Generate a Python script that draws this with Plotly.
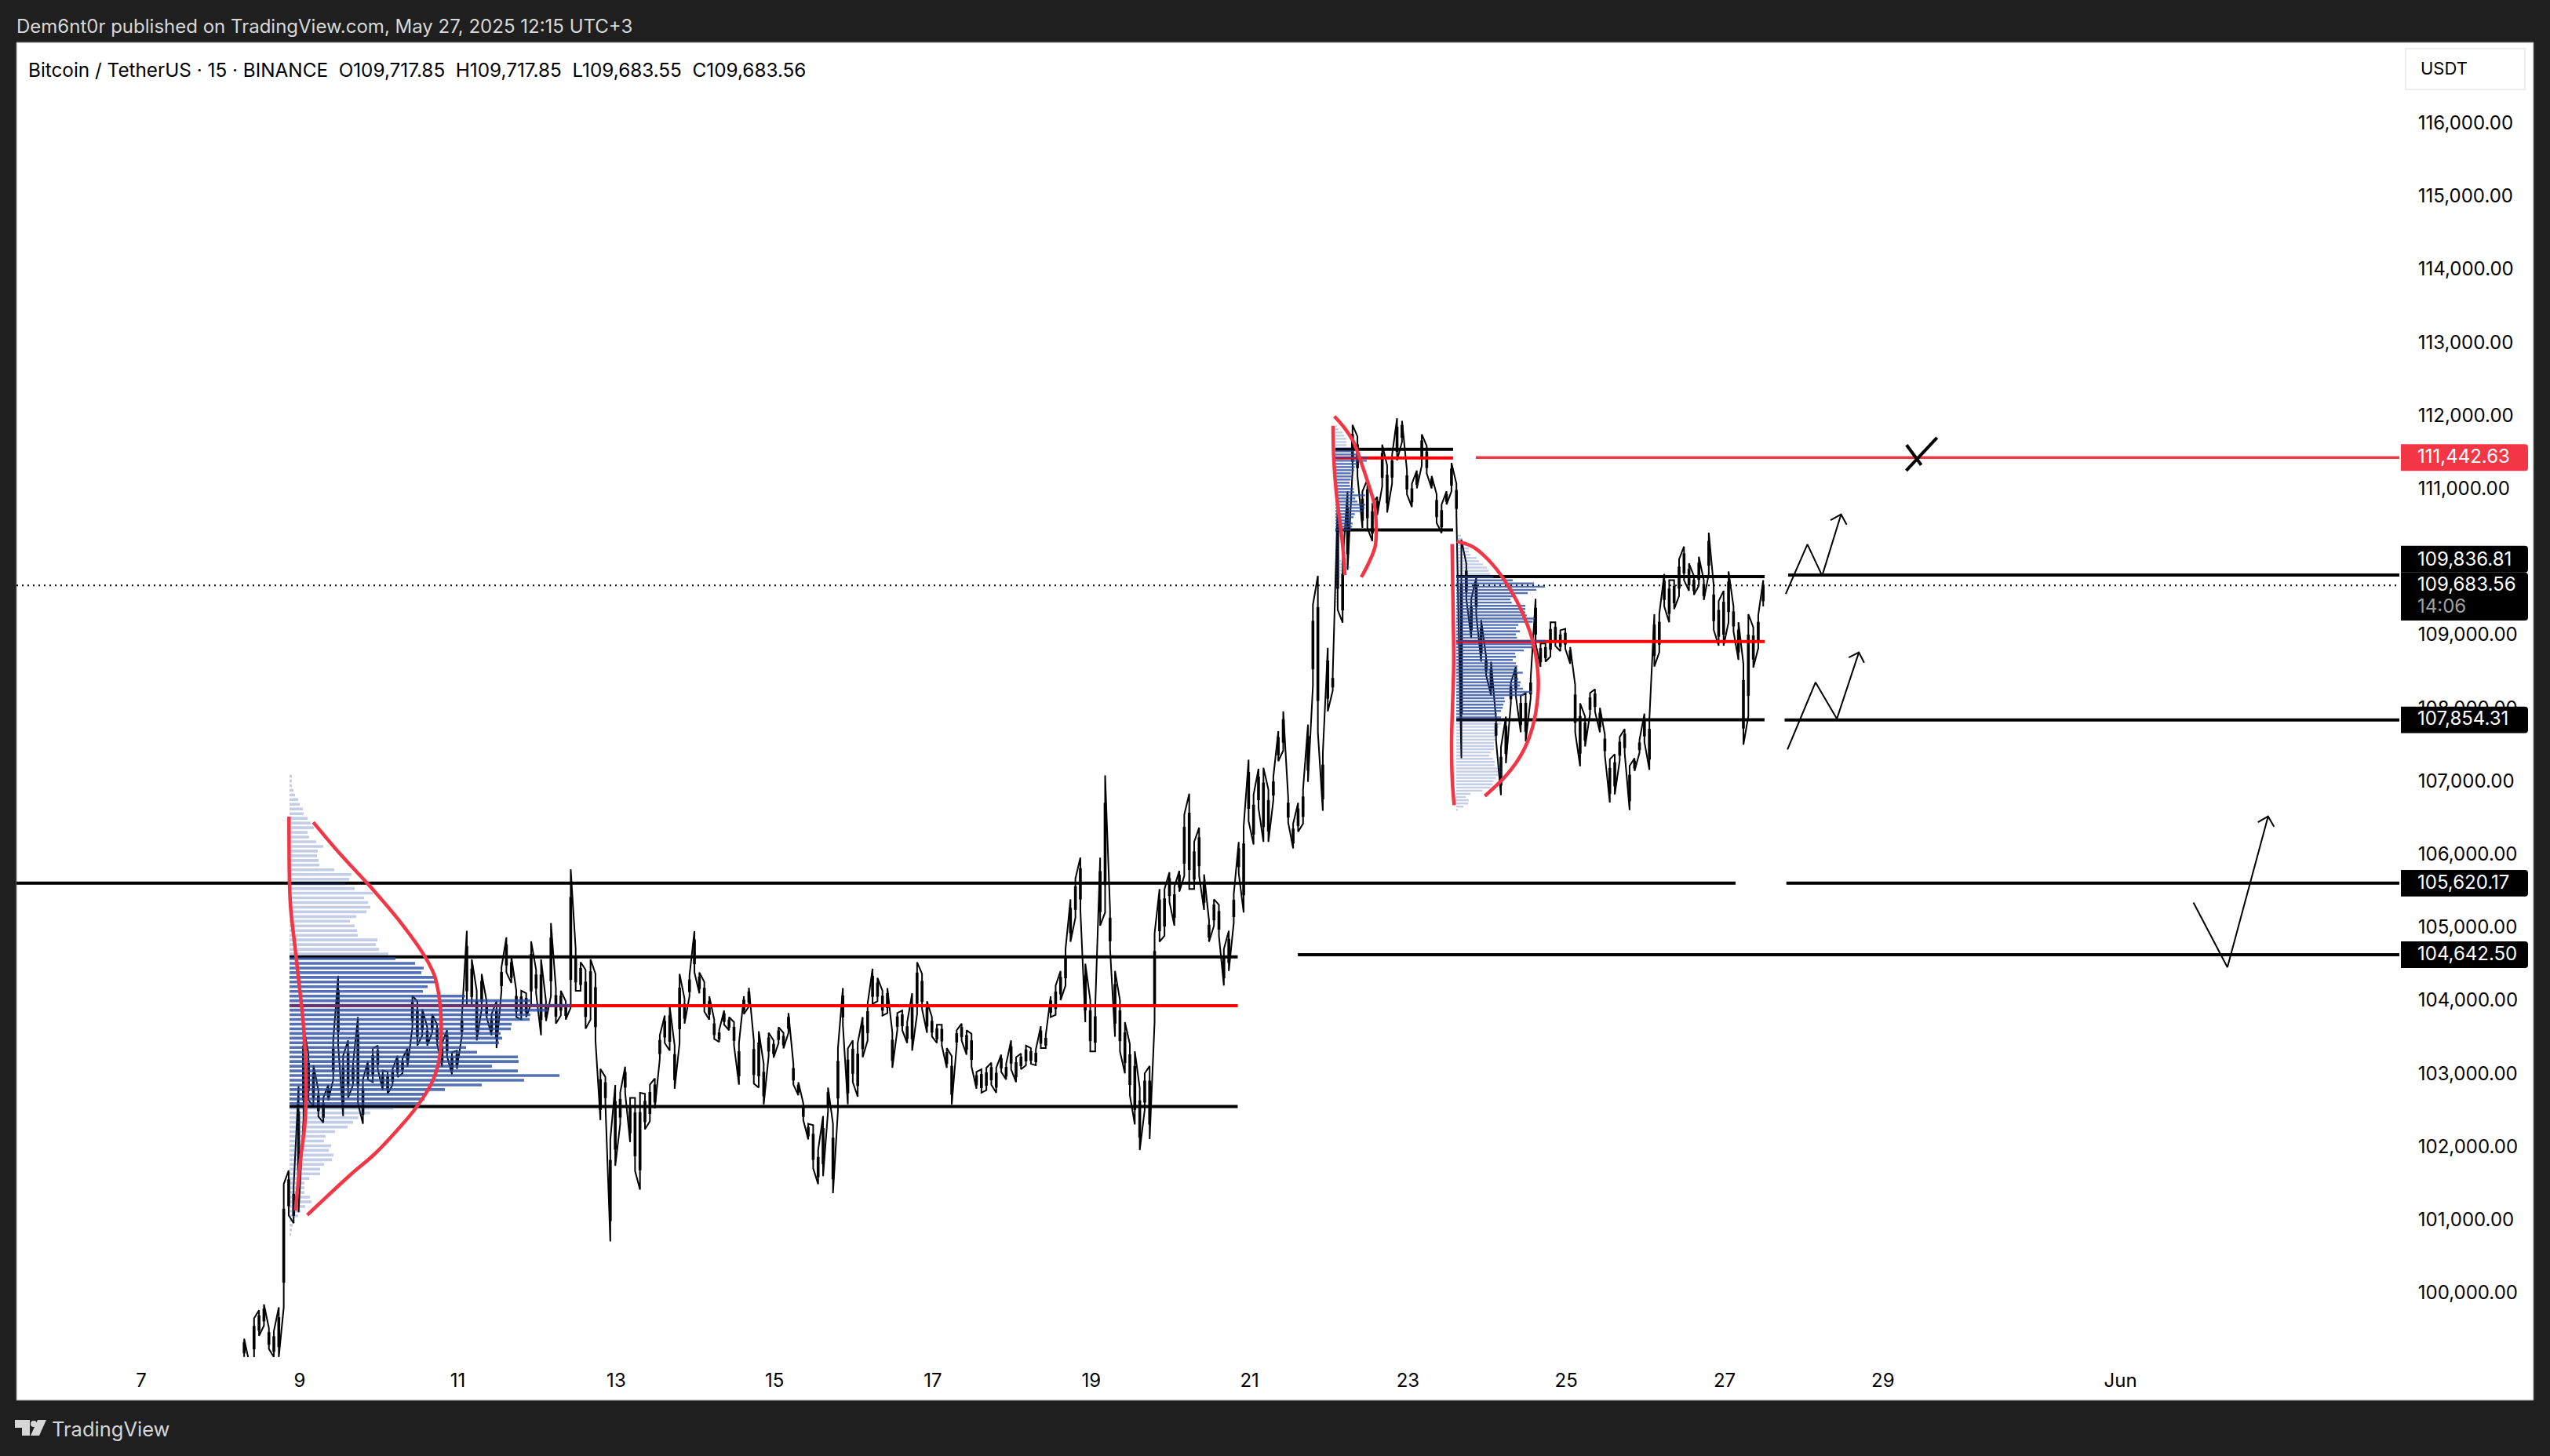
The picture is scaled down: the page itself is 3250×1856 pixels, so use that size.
#!/usr/bin/env python
import plotly.graph_objects as go

# chart frame in page pixels
W, H = 3250, 1856
L, R, T, B = 21, 3058, 54, 1730
DAY_MIN, DAY_MAX = 5.424, 35.523
PRICE_MIN, PRICE_MAX = 99118, 117101

price_ticks = [100000 + 1000 * i for i in range(17)]
day_ticks = [7, 9, 11, 13, 15, 17, 19, 21, 23, 25, 27, 29, 32]
day_labels = ["7", "9", "11", "13", "15", "17", "19", "21", "23", "25", "27", "29", "Jun"]

# BTCUSDT, one high/low pair every 90 minutes from May 8 07:12
bar_start = 8.3
bar_step = 0.0625
bar_high = [99370, 99050, 99650, 99760, 99840, 99517, 99475, 99800, 101486, 101672, 101450, 102825, 103630,
            103270, 103110, 102770, 102665, 102840, 103450, 104335, 103240, 103450, 103130, 103770, 102915,
            103165, 103340, 103380, 103040, 103020, 103060, 103240, 103200, 103340, 104060, 103985, 103880,
            103630, 103810, 103665, 103415, 103590, 103290, 103310, 103770, 104950, 104560, 104130, 104360,
            103985, 103810, 103985, 104450, 104860, 104590, 104130, 104130, 104095, 104805, 104415, 104560,
            103985, 105055, 104165, 104130, 103985, 105790, 104700, 104520, 104415, 104560, 104360, 103060,
            102950, 102095, 102840, 102735, 103090, 102665, 102665, 102735, 102720, 102845, 102930, 103520,
            103790, 103915, 103380, 104360, 104020, 104340, 104945, 104380, 104250, 104055, 103735, 103590,
            103860, 103770, 103700, 103415, 104055, 104170, 103450, 103575, 103130, 103555, 103450, 103630,
            103555, 103825, 103130, 102880, 102590, 102310, 102290, 101950, 102415, 102805, 102310, 103340,
            104165, 103340, 103450, 103415, 103770, 103950, 104430, 104305, 104130, 104165, 103555, 103825,
            103860, 103700, 104095, 104520, 104360, 103985, 103770, 103665, 103665, 103345, 103235, 103590,
            103680, 103590, 103540, 103020, 103055, 103075, 103145, 103075, 103255, 103130, 103450, 103220,
            103270, 103380, 103345, 103325, 103645, 103520, 104055, 104200, 104400, 104700, 105380, 105665,
            105950, 104500, 104000, 103900, 105950, 107075, 105235, 104400, 104000, 103700, 103400, 103300,
            102800, 103000, 103100, 104915, 105520, 105520, 105750, 105555, 105770, 106540, 106825, 106165,
            106360, 105720, 105090, 105380, 105305, 104700, 104950, 105450, 106165, 106380, 107290, 106810,
            107165, 107180, 106880, 107055, 107680, 107950, 106770, 106415, 106700, 106880, 107770, 109410,
            109805, 107380, 108820, 108450, 110780, 110000, 110960, 111870, 111710, 110960, 111120, 110790,
            110885, 111600, 111315, 111460, 111960, 111925, 111245, 111065, 111245, 111740, 111580, 111170,
            110920, 110780, 110960, 111350, 111065, 110300, 109970, 109490, 109775, 109200, 108700, 108630,
            107845, 107460, 107880, 108345, 108560, 108165, 108200, 108400, 109490, 108880, 108880, 109170,
            109170, 109060, 109080, 108830, 108310, 108060, 107880, 108200, 108255, 108000, 107635, 107295,
            107365, 107600, 107710, 107205, 107310, 107560, 107920, 107850, 109280, 109280, 109830, 109745,
            109745, 110030, 110205, 109975, 109800, 110065, 109745, 110395, 109670, 109460, 109600, 109865,
            109385, 109170, 108600, 109280, 109100, 109265, 109745]
bar_low = [99120, 98900, 99120, 99410, 99550, 99230, 99120, 99120, 99800, 101058, 100950, 101100, 102380,
           102630, 102560, 102410, 102325, 102630, 102915, 103380, 102415, 102665, 102840, 102590, 102310,
           102915, 102880, 103060, 102770, 102720, 102840, 102950, 103000, 103090, 103630, 103380, 103520,
           103380, 103560, 103400, 103090, 103235, 102985, 103060, 103520, 103915, 103915, 103450, 103880,
           103770, 103520, 103345, 104130, 104380, 104235, 103770, 103735, 103770, 103950, 104095, 103520,
           103715, 104060, 103680, 103790, 103735, 103900, 104130, 104130, 103610, 103735, 103450, 102360,
           102590, 100700, 101735, 102310, 102735, 102060, 101665, 101410, 102235, 102345, 102520, 103200,
           103415, 103310, 102790, 103415, 103680, 104055, 104380, 104095, 103845, 103735, 103470, 103430,
           103665, 103590, 103380, 102845, 103810, 103915, 102860, 102805, 102575, 103235, 103215, 103415,
           103340, 103555, 102845, 102700, 102360, 102095, 101700, 101485, 101595, 102485, 101360, 102485,
           103665, 102575, 102880, 102680, 103220, 103450, 103950, 103985, 103790, 103825, 103075, 103590,
           103590, 103415, 103310, 103810, 103880, 103555, 103505, 103415, 103380, 103075, 102575, 103380,
           103450, 103255, 103095, 102790, 102735, 102770, 102845, 102735, 103020, 102915, 103055, 102880,
           103055, 103110, 103130, 103110, 103345, 103345, 103770, 103800, 104000, 104200, 104800, 105130,
           105235, 103700, 103300, 103300, 105020, 105200, 104700, 103500, 103300, 103000, 102700, 102300,
           101950, 102500, 102100, 103700, 104800, 104880, 105345, 105020, 105485, 105700, 105520, 105520,
           105700, 105235, 104800, 105020, 104880, 104200, 104400, 105060, 105735, 105200, 106450, 106130,
           106630, 106165, 106165, 106735, 107270, 107415, 106430, 106075, 106305, 106415, 106985, 108305,
           107665, 106590, 107950, 108235, 109340, 109165, 109885, 111240, 111170, 110460, 110460, 110280,
           110635, 111030, 110670, 111070, 111385, 111635, 110920, 110745, 111000, 111315, 111205, 111000,
           110530, 110390, 110780, 110960, 110635, 107310, 109490, 108950, 109275, 108630, 108450, 108165,
           107560, 106805, 107240, 108060, 108165, 107665, 107540, 108130, 108880, 108560, 108630, 108700,
           108845, 108775, 108810, 108600, 107665, 107200, 107470, 107915, 107950, 107665, 107350, 106705,
           106815, 107280, 107385, 106600, 107135, 107385, 107530, 107150, 108565, 108760, 109385, 109170,
           109350, 109530, 109745, 109600, 109545, 109670, 109475, 109830, 109065, 108850, 108850, 109170,
           109045, 108655, 107495, 107885, 108550, 108815, 109385]
last_price = 109683.56

# visible range volume profiles: volume per row, top row first
vp1_volume = [9, 9, 9, 15, 21, 33, 39, 51, 54, 69, 81, 93, 69, 75, 102, 129, 108, 105, 111, 114,
              171, 237, 228, 213, 249, 318, 285, 300, 309, 294, 255, 231, 249, 258, 261, 336, 330, 342, 378, 405,
              480, 513, 504, 555, 558, 528, 510, 672, 924, 1077, 987, 921, 918, 849, 846, 807, 813, 801, 675, 717,
              873, 876, 774, 873, 1032, 897, 735, 594, 522, 516, 493, 396, 309, 263, 243, 222, 174, 138, 132, 159,
              150, 168, 162, 132, 117, 117, 75, 57, 57, 57, 78, 84, 60, 42, 33, 15, 12, 9, 6]
vp2_volume = [6, 12, 27, 34, 42, 41, 42, 59, 69, 84, 126, 120, 84, 74, 72, 59, 64, 58, 54, 56, 70, 72, 114, 76,
              84, 114, 112, 104, 74, 69, 59, 66, 64, 59, 42, 19, 12, 16, 14, 14, 12, 9, 9, 22, 44, 56, 24, 20, 19,
              14, 10, 10, 6, 6, 6, 6, 6, 4]
vp3_volume = [18, 24, 36, 42, 48, 48, 54, 78, 87, 102, 117, 124, 130, 142, 216, 297, 339, 306, 273, 222, 207, 212,
              264, 264, 264, 270, 300, 292, 237, 228, 243, 228, 232, 342, 292, 288, 258, 225, 228, 216, 228, 234,
              234, 254, 228, 237, 246, 243, 255, 288, 258, 184, 186, 180, 177, 171, 156, 171, 152, 172, 162, 152,
              159, 147, 147, 144, 144, 144, 132, 126, 140, 147, 147, 177, 174, 174, 152, 142, 139, 130, 99, 54,
              37, 48, 45, 27, 6]
# start day, top row price, row height, value area high, value area low, point of control, last day
vp1_range = (8.873, 107063, 63.96, 104593, 102547, 103925, 20.85)
vp2_range = (22.084, 111850, 42.9, 111535, 110432, 111418, 23.57)
vp3_range = (23.611, 110354, 43.6, 109793, 107836, 108907, 27.505)
VP_DAYS_PER_UNIT = 1 / 302.7

# horizontal levels drawn on the chart: price, from day, to day
level_105620 = (105620.17, DAY_MIN, 27.139)
level_105620b = (105620.17, 27.780, DAY_MAX)
level_104642 = (104642.50, 21.61, DAY_MAX)
level_107854 = (107854.31, 27.758, DAY_MAX)
level_109836 = (109836.81, 27.803, DAY_MAX)
level_111442 = (111442.63, 23.858, DAY_MAX)
# the axis text sits a touch above its price, so the drawn levels land about 2px under where the ticks suggest
LEVEL_NUDGE = -20

# hand drawn curves around the profiles
curve1_left_x = [8.866, 8.873, 8.889, 8.942, 8.998, 9.041, 9.074, 9.081, 9.064, 9.015, 8.949]
curve1_left_y = [106512, 105579, 105239, 104730, 104179, 103755, 103246, 102610, 102271, 101847, 101125]
curve1_right_x = [9.173, 9.510, 9.907, 10.303, 10.568, 10.700, 10.749, 10.782, 10.789, 10.759, 10.667, 10.468,
                  10.237, 9.940, 9.643, 9.097]
curve1_right_y = [106435, 106003, 105536, 105027, 104624, 104349, 104137, 103840, 103543, 103161, 102864, 102525,
                  102228, 101889, 101613, 101062]
curve2_left_x = [22.054, 22.064, 22.097, 22.147, 22.180, 22.203]
curve2_left_y = [111857, 111386, 110922, 110493, 110172, 109815]
curve2_right_x = [22.071, 22.196, 22.312, 22.411, 22.510, 22.576, 22.599, 22.586, 22.510, 22.411]
curve2_right_y = [111986, 111832, 111636, 111350, 111029, 110779, 110493, 110207, 109993, 109786]
curve3_left_x = [23.558, 23.571, 23.578, 23.551, 23.561, 23.584]
curve3_left_y = [110239, 109311, 108597, 107525, 106990, 106668]
curve3_right_x = [23.617, 23.815, 24.014, 24.212, 24.410, 24.575, 24.641, 24.641, 24.575, 24.443, 24.245, 23.971]
curve3_right_y = [110275, 110204, 110025, 109757, 109382, 108918, 108489, 108168, 107739, 107382, 107079, 106793]

# projected paths, each head is the arrow tip
path1_x = [27.772, 28.046, 28.232, 28.471]
path1_y = [109556, 110236, 109806, 110645]
head1_x = [28.338, 28.471, 28.542]
head1_y = [110565, 110645, 110505]
path2_x = [27.794, 28.148, 28.418, 28.696]
path2_y = [107429, 108348, 107848, 108757]
head2_x = [28.568, 28.696, 28.763]
head2_y = [108687, 108757, 108617]
path3_x = [32.922, 33.351, 33.865]
path3_y = [105336, 104451, 106514]
head3_x = [33.736, 33.865, 33.940]
head3_y = [106435, 106514, 106375]
cross_a_x = [29.294, 29.683]
cross_a_y = [111245, 111694]
cross_b_x = [29.298, 29.484]
cross_b_y = [111594, 111320]

BLACK = "#000000"
RED = "#f23645"
PURE_RED = "#ff0000"
VA_BLUE = "rgba(41,76,164,0.8)"
OUT_BLUE = "rgba(41,76,164,0.28)"
FRAME = "#1f1f1f"
FONT = "Inter"


def px_x(x):
    return (x - L) / (R - L)


def px_y(y):
    return (B - y) / (B - T)


def line(xs, ys, color=BLACK, width=2, shape="linear", dash=None):
    return go.Scatter(x=xs, y=ys, mode="lines", hoverinfo="skip", showlegend=False,
                      line=dict(color=color, width=width, shape=shape, dash=dash))


def level(spec, color=BLACK, width=4):
    price, x0, x1 = spec
    return line([x0, x1], [price + LEVEL_NUDGE, price + LEVEL_NUDGE], color, width)


def profile_rows(volume, spec, inside):
    start, top, step, vah, val = spec[:5]
    xs, ys = [], []
    for i, v in enumerate(volume):
        p = top - i * step
        if (val <= p <= vah) == inside:
            xs += [start, start + v * VP_DAYS_PER_UNIT, None]
            ys += [p, p, None]
    return xs, ys


# wick path through the highs and lows, plus a heavier stroke over the middle of each bar
bar_x, bar_y, body_x, body_y = [], [], [], []
for i, (h, l) in enumerate(zip(bar_high, bar_low)):
    t = bar_start + i * bar_step
    bar_x += [t, t]
    bar_y += [l, h] if i % 2 == 0 else [h, l]
    body_x += [t, t, None]
    body_y += [l + (h - l) * 0.2, h - (h - l) * 0.2, None]

fig = go.Figure()
fig.add_trace(line([DAY_MIN, DAY_MAX], [last_price - 10, last_price - 10], BLACK, 2, dash="2px,5px"))
fig.add_trace(line(bar_x, bar_y, BLACK, 2))
fig.add_trace(line(body_x, body_y, BLACK, 3.6))

for spec in (vp1_range, vp2_range, vp3_range):
    start, vah, val, poc, end = spec[0], spec[3], spec[4], spec[5], spec[6]
    fig.add_trace(line([start, end], [vah, vah], BLACK, 4))
    fig.add_trace(line([start, end], [val, val], BLACK, 4))
    fig.add_trace(line([start, end], [poc, poc], PURE_RED, 4))
for spec in (level_105620, level_105620b, level_104642, level_107854, level_109836):
    fig.add_trace(level(spec))
fig.add_trace(level(level_111442, RED, 3.6))

for volume, spec, row_px in ((vp1_volume, vp1_range, 3.6), (vp2_volume, vp2_range, 2.4), (vp3_volume, vp3_range, 2.4)):
    xs, ys = profile_rows(volume, spec, True)
    fig.add_trace(line(xs, ys, VA_BLUE, row_px))
    xs, ys = profile_rows(volume, spec, False)
    fig.add_trace(line(xs, ys, OUT_BLUE, row_px))

for xs, ys in ((curve1_left_x, curve1_left_y), (curve1_right_x, curve1_right_y),
               (curve2_left_x, curve2_left_y), (curve2_right_x, curve2_right_y),
               (curve3_left_x, curve3_left_y), (curve3_right_x, curve3_right_y)):
    fig.add_trace(line(xs, ys, RED, 4.5, shape="spline"))

for xs, ys in ((path1_x, path1_y), (head1_x, head1_y), (path2_x, path2_y), (head2_x, head2_y),
               (path3_x, path3_y), (head3_x, head3_y)):
    fig.add_trace(line(xs, ys, BLACK, 2))
fig.add_trace(line(cross_a_x, cross_a_y, BLACK, 4))
fig.add_trace(line(cross_b_x, cross_b_y, BLACK, 4))

# white chart surface, the plot area only covers the panes
shapes = [dict(type="rect", xref="paper", yref="paper", layer="below", x0=px_x(21), x1=px_x(3229),
               y0=px_y(1785), y1=px_y(54), fillcolor="white", line=dict(color="#8a8a8a", width=1))]


def price_tag(top, bottom, color):
    x0, x1 = px_x(3060), px_x(3222)
    r = 4 / (R - L)
    ry = 4 * (PRICE_MAX - PRICE_MIN) / (B - T)
    path = (f"M {x0} {top} L {x1 - r} {top} Q {x1} {top} {x1} {top - ry} L {x1} {bottom + ry} "
            f"Q {x1} {bottom} {x1 - r} {bottom} L {x0} {bottom} Z")
    return dict(type="path", xref="paper", yref="y", path=path, fillcolor=color, line=dict(width=0), layer="above")


TAG_HALF = 182
for price, color in ((111442.63, RED), (107854.31, BLACK), (105620.17, BLACK), (104642.50, BLACK)):
    shapes.append(price_tag(price + LEVEL_NUDGE + TAG_HALF, price + LEVEL_NUDGE - TAG_HALF, color))
# the two tags by the current price are pushed apart
shapes.append(price_tag(110214, 109850, BLACK))
shapes.append(price_tag(109850, 109193, BLACK))

# USDT button
shapes.append(dict(type="rect", xref="paper", yref="paper", x0=px_x(3066), x1=px_x(3218), y0=px_y(114), y1=px_y(62),
                   fillcolor="white", line=dict(color="#e6e8ee", width=1.5), layer="above"))
# TradingView mark
logo = "#d6d6d6"
shapes.append(dict(type="path", xref="paper", yref="paper", fillcolor=logo, line=dict(width=0), layer="above",
                   path=" ".join(f"{c} {px_x(x)} {px_y(y)}" for c, x, y in [
                       ("M", 19, 1810), ("L", 38, 1810), ("L", 38, 1830), ("L", 28, 1830), ("L", 28, 1820),
                       ("L", 19, 1820)]) + " Z"))
shapes.append(dict(type="path", xref="paper", yref="paper", fillcolor=logo, line=dict(width=0), layer="above",
                   path=" ".join(f"{c} {px_x(x)} {px_y(y)}" for c, x, y in [
                       ("M", 48, 1810), ("L", 59, 1810), ("L", 50, 1830), ("L", 39, 1830)]) + " Z"))
shapes.append(dict(type="circle", xref="paper", yref="paper", fillcolor=logo, line=dict(width=0), layer="above",
                   x0=px_x(39), x1=px_x(47), y0=px_y(1819), y1=px_y(1811)))


def note(text, x, y, size=24, color=BLACK, yref="paper"):
    return dict(text=text, xref="paper", yref=yref, x=px_x(x), y=y, xanchor="left", yanchor="middle", showarrow=False,
                align="left", font=dict(family=FONT, size=size, color=color))


annotations = [
    note("Dem6nt0r published on TradingView.com, May 27, 2025 12:15 UTC+3", 19, px_y(33), 24, "#d8d8d8"),
    note("Bitcoin / TetherUS · 15 · BINANCE&nbsp;&nbsp;O109,717.85&nbsp;&nbsp;H109,717.85&nbsp;&nbsp;"
         "L109,683.55&nbsp;&nbsp;C109,683.56", 34, px_y(89), 24.3),
    note("USDT", 3083, px_y(87), 22),
    note("TradingView", 64, px_y(1821), 25.5, "#d6d6d6"),
    note("109,836.81", 3079, 110040, 24, "white", "y"),
    note("109,683.56", 3079, 109697, 24, "white", "y"),
    note("14:06", 3079, 109392, 24, "#a0a0a0", "y"),
]
for price in (111442.63, 107854.31, 105620.17, 104642.50):
    annotations.append(note(f"{price:,.2f}", 3079, price, 24, "white", "y"))

fig.update_layout(width=W, height=H, autosize=False, paper_bgcolor=FRAME, plot_bgcolor="white", showlegend=False,
                  margin=dict(l=L, r=W - R, t=T, b=H - B, pad=0), shapes=shapes, annotations=annotations,
                  font=dict(family=FONT, size=24, color=BLACK))
fig.update_xaxes(range=[DAY_MIN, DAY_MAX], tickmode="array", tickvals=day_ticks, ticktext=day_labels,
                 showgrid=False, zeroline=False, showline=False, ticks="outside", ticklen=8, tickcolor="rgba(0,0,0,0)",
                 tickfont=dict(family=FONT, size=24, color=BLACK))
fig.update_yaxes(range=[PRICE_MIN, PRICE_MAX], side="right", tickmode="array", tickvals=price_ticks,
                 tickformat=",.2f", showgrid=False, zeroline=False, showline=False, ticks="outside", ticklen=18,
                 tickcolor="rgba(0,0,0,0)", tickfont=dict(family=FONT, size=24, color=BLACK))

# page has a default body margin that would offset the whole chart
fig.write_html("out.html", config=dict(displayModeBar=False),
               post_script="document.body.style.margin='0';document.body.style.background='#1f1f1f';")
